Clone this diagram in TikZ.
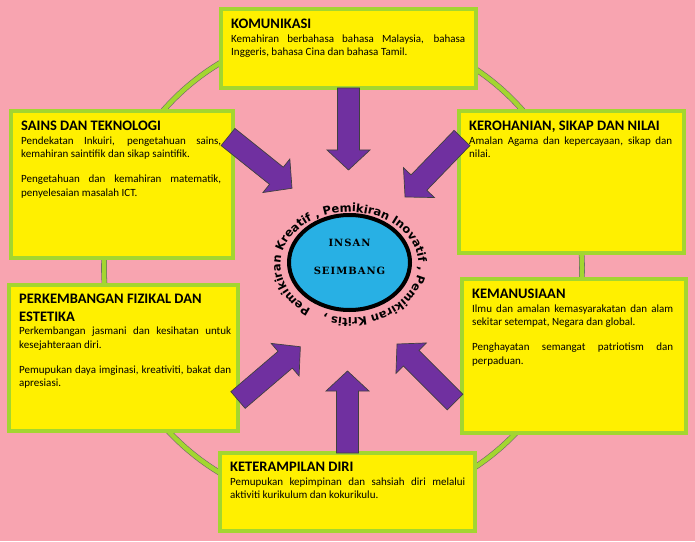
\documentclass[tikz,border=0pt]{standalone}
\usepackage{fontspec}
\setmainfont{Carlito}
\newfontfamily\ringfont{DejaVu Sans}
\newfontfamily\centerfont{DejaVu Serif}[LetterSpace=10]
\usepackage{tikz}
\usetikzlibrary{positioning, shapes.geometric, decorations.text}

\definecolor{bgpink}{RGB}{248,164,176}
\definecolor{ringgreen}{RGB}{163,214,48}
\definecolor{boxyellow}{RGB}{255,240,0}
\definecolor{arrowpurple}{RGB}{112,48,160}
\definecolor{coreblue}{RGB}{40,176,228}

\setlength{\parindent}{0pt}
\hyphenpenalty=10000
\exhyphenpenalty=10000
\tolerance=9999
\newcommand{\boxhead}[1]{{\fontsize{14.5}{17.5}\selectfont\bfseries #1\par}}
\newcommand{\paragap}{\par\vspace{12pt}}
\newcommand{\fatarrow}[2]{% tail, direction
  \begin{scope}[shift={(#1)}, rotate=#2]
    \draw[arrowbody] (0,-11) -- (62,-11) -- (62,-21.5) -- (82,0) -- (62,21.5) -- (62,11) -- (0,11) -- cycle;
  \end{scope}}

\begin{document}
\begin{tikzpicture}[
    x=1pt, y=1pt,
    ring/.style={draw=ringgreen, line width=4.5pt, preaction={draw=black!60, line width=5.6pt}},
    box/.style={draw=ringgreen, line width=3.5pt, fill=boxyellow, preaction={draw=black!65, line width=4.6pt}, inner sep=0pt, outer sep=0pt},
    txt/.style={inner sep=0pt, align=justify, font=\fontsize{11}{13.4}\selectfont},
    arrowbody/.style={fill=arrowpurple, draw=black!75, line width=0.7pt},
    core/.style={ellipse, draw=black, line width=4pt, fill=coreblue, minimum width=121pt, minimum height=95pt, inner sep=0pt},
    coretext/.style={font=\centerfont\bfseries\fontsize{10}{12}\selectfont}
]

  % Background and outer ring
  \useasboundingbox (0,0) rectangle (695,541);
  \fill[bgpink] (0,0) rectangle (695,541);
  \draw[ring] (343,273) circle[radius=239];

  % Six boxes round the ring
  \node[box, minimum width=255pt, minimum height=79pt] (kom) at (348.5,492.5) {};
  \node[box, minimum width=222pt, minimum height=147pt] (sains) at (122,356.5) {};
  \node[box, minimum width=225pt, minimum height=142pt] (kero) at (571.5,359) {};
  \node[box, minimum width=229pt, minimum height=146pt] (perk) at (123.5,183) {};
  \node[box, minimum width=224pt, minimum height=154pt] (keman) at (574,185) {};
  \node[box, minimum width=255pt, minimum height=78pt] (ketr) at (347.5,49) {};

  % Texts inside the boxes
  \node[txt, text width=234pt, below right=10pt and 10pt of kom.north west] (komtext)
    {\boxhead{KOMUNIKASI}Kemahiran berbahasa bahasa Malaysia, bahasa Inggeris, bahasa Cina dan bahasa Tamil.};
  \node[txt, text width=200pt, below right=10pt and 10pt of sains.north west] (sainstext)
    {\boxhead{SAINS DAN TEKNOLOGI}Pendekatan Inkuiri, pengetahuan sains, kemahiran saintifik dan sikap saintifik.\paragap
     Pengetahuan dan kemahiran matematik, penyelesaian masalah ICT.};
  \node[txt, text width=203pt, below right=10pt and 10pt of kero.north west] (kerotext)
    {\boxhead{KEROHANIAN, SIKAP DAN NILAI}Amalan Agama dan kepercayaan, sikap dan nilai.};
  \node[txt, text width=212pt, below right=9pt and 10pt of perk.north west] (perktext)
    {\boxhead{PERKEMBANGAN FIZIKAL DAN\newline ESTETIKA}Perkembangan jasmani dan kesihatan untuk kesejahteraan diri.\paragap
     Pemupukan daya imginasi, kreativiti, bakat dan apresiasi.};
  \node[txt, text width=201pt, below right=10pt and 10pt of keman.north west] (kemantext)
    {\boxhead{KEMANUSIAAN}Ilmu dan amalan kemasyarakatan dan alam sekitar setempat, Negara dan global.\paragap
     Penghayatan semangat patriotism dan perpaduan.};
  \node[txt, text width=235pt, below right=9pt and 10pt of ketr.north west] (ketrtext)
    {\boxhead{KETERAMPILAN DIRI}Pemupukan kepimpinan dan sahsiah diri melalui aktiviti kurikulum dan kokurikulu.};

  % Block arrows pointing to the centre
  \coordinate (tailsains) at (228,404);
  \coordinate (tailkero) at (462,403);
  \coordinate (tailperk) at (238,141);
  \coordinate (tailkeman) at (455,139);
  \fatarrow{kom.south}{-90}
  \fatarrow{ketr.north}{90}
  \fatarrow{tailsains}{-38.7}
  \fatarrow{tailkero}{226}
  \fatarrow{tailperk}{40.5}
  \fatarrow{tailkeman}{135}

  % Centre
  \node[core] (core) at (349.5,278.5) {};
  \node[coretext] (insan) at ([yshift=19.5pt]core.center) {INSAN};
  \node[coretext] (seimbang) at ([yshift=-8.5pt]core.center) {SEIMBANG};
  \coordinate (ringmid) at ([yshift=-2.5pt]core.center);
  \path[decorate, decoration={text along path, text align=fit to path,
      text={|\ringfont\bfseries\fontsize{11.5}{12}\selectfont|Pemikiran Kreatif , Pemikiran Inovatif , Pemikiran Kritis ,}}]
    (ringmid) ++(236:69 and 53) arc[start angle=236, end angle=-112, x radius=69, y radius=53];

\end{tikzpicture}
\end{document}
